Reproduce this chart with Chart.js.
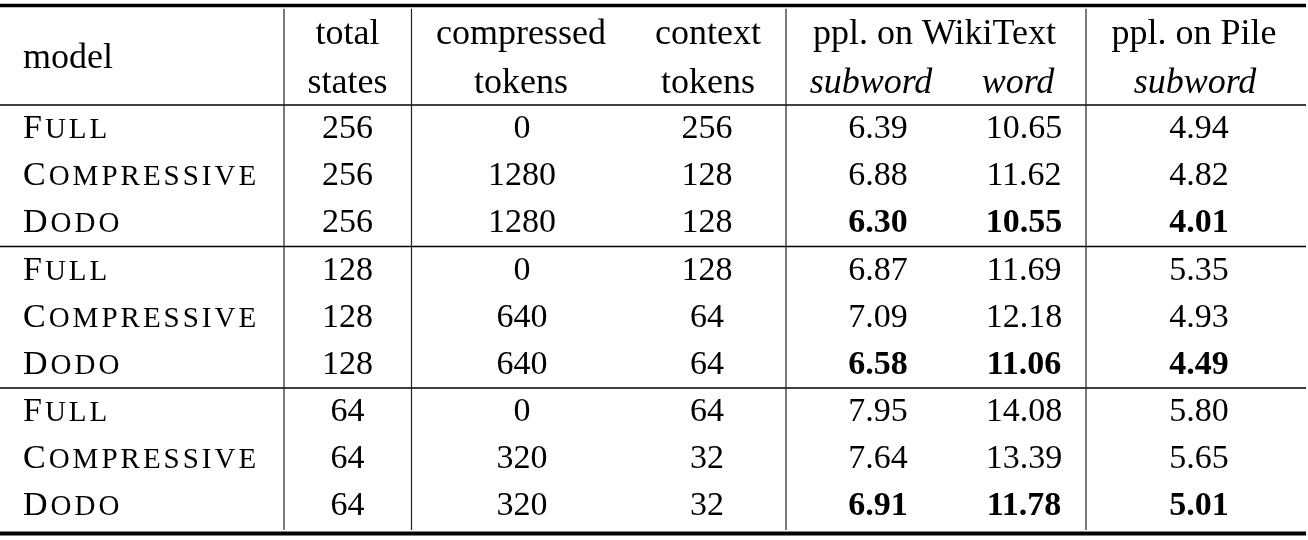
<!DOCTYPE html>
<html>
<head>
<meta charset="utf-8">
<script src="https://cdn.jsdelivr.net/npm/chart.js@4.4.1/dist/chart.umd.min.js"></script>
<style>
  html, body { margin: 0; padding: 0; background: #fff; }
  #wrap { width: 1308px; height: 540px; position: relative; }
</style>
</head>
<body>
<div id="wrap"><canvas id="resultsTable"></canvas></div>
<script>
// table values, one entry per row, three rows per block
var models = ['Full', 'Compressive', 'Dodo', 'Full', 'Compressive', 'Dodo', 'Full', 'Compressive', 'Dodo'];
var total_states = [256, 256, 256, 128, 128, 128, 64, 64, 64];
var compressed_tokens = [0, 1280, 1280, 0, 640, 640, 0, 320, 320];
var context_tokens = [256, 128, 128, 128, 64, 64, 64, 32, 32];
var wiki_subword = [6.39, 6.88, 6.30, 6.87, 7.09, 6.58, 7.95, 7.64, 6.91];
var wiki_word = [10.65, 11.62, 10.55, 11.69, 12.18, 11.06, 14.08, 13.39, 11.78];
var pile_subword = [4.94, 4.82, 4.01, 5.35, 4.93, 4.49, 5.80, 5.65, 5.01];
var group_size = 3;

var header_top = ['model', 'total', 'compressed', 'context', 'ppl. on WikiText', 'ppl. on Pile'];
var header_sub = ['states', 'tokens', 'tokens', 'subword', 'word', 'subword'];

// layout: x in px across the table, y in rows (0 = rule under the header)
var FONT = '"Liberation Serif", "DejaVu Serif", serif';
var FONT_SIZE = 34;
var HEAD_SIZE = 36;
var col_x = [23, 347.5, 522, 707, 878, 1024, 1199];
var top_x = [23, 347.5, 521, 708, 934.5, 1194];
var sub_x = [347.5, 521, 708, 871, 1018, 1195];
var col_rules = [284, 411.5, 786, 1086];
var header_rows = { top: -1.505, sub: -0.456, model: -0.99 };
var rule_rows = { top: -2.109, bottom: 9.084, vtop: -2.04, vbottom: 9.01 };


function group_best(values, i) {
    'use strict';
    var start = Math.floor(i / group_size) * group_size;
    var best = Math.min.apply(null, values.slice(start, start + group_size));
    return values[i] === best;
}

function make_column(values, col, decimals, bold_best) {
    'use strict';
    return {
        data: values.map(function (v, i) {
            return {
                x: col_x[col],
                y: i + 0.5,
                label: decimals ? v.toFixed(decimals) : String(v),
                bold: bold_best ? group_best(values, i) : false
            };
        }),
        pointRadius: 0,
        pointHoverRadius: 0
    };
}

function draw_small_caps(ctx, text, x, y) {
    'use strict';
    var first = text.charAt(0).toUpperCase();
    var rest = text.slice(1).toUpperCase();
    ctx.textAlign = 'left';
    ctx.letterSpacing = '3px';
    ctx.font = FONT_SIZE + 'px ' + FONT;
    ctx.fillText(first, x, y);
    var w = ctx.measureText(first).width;
    ctx.font = '29px ' + FONT;
    ctx.fillText(rest, x + w, y);
    ctx.letterSpacing = '0px';
}

var tablePlugin = {
    id: 'tableText',
    afterDatasetsDraw: function (chart) {
        'use strict';
        var ctx = chart.ctx;
        var xs = chart.scales.x;
        var ys = chart.scales.y;
        var left = xs.getPixelForValue(0);
        var right = xs.getPixelForValue(1306);
        var shift = FONT_SIZE * 0.28;

        ctx.save();
        ctx.strokeStyle = '#000';

        function hline(row, width) {
            var py = ys.getPixelForValue(row);
            ctx.lineWidth = width;
            ctx.beginPath();
            ctx.moveTo(left, py);
            ctx.lineTo(right, py);
            ctx.stroke();
        }
        hline(rule_rows.top, 3.6);
        hline(0, 1.3);
        for (var g = group_size; g < models.length; g += group_size) {
            hline(g, 1.3);
        }
        hline(rule_rows.bottom, 4);

        ctx.lineWidth = 1.2;
        ctx.strokeStyle = '#222';
        col_rules.forEach(function (c) {
            var px = xs.getPixelForValue(c);
            ctx.beginPath();
            ctx.moveTo(px, ys.getPixelForValue(rule_rows.vtop));
            ctx.lineTo(px, ys.getPixelForValue(rule_rows.vbottom));
            ctx.stroke();
        });

        ctx.fillStyle = '#000';
        ctx.textBaseline = 'alphabetic';

        // header
        ctx.font = HEAD_SIZE + 'px ' + FONT;
        ctx.textAlign = 'left';
        ctx.fillText(header_top[0], xs.getPixelForValue(top_x[0]), ys.getPixelForValue(header_rows.model) + shift);
        ctx.textAlign = 'center';
        for (var i = 1; i < header_top.length; i++) {
            ctx.fillText(header_top[i], xs.getPixelForValue(top_x[i]), ys.getPixelForValue(header_rows.top) + shift);
        }
        for (var j = 0; j < header_sub.length; j++) {
            ctx.font = (j >= 3 ? 'italic ' : '') + HEAD_SIZE + 'px ' + FONT;
            ctx.fillText(header_sub[j], xs.getPixelForValue(sub_x[j]), ys.getPixelForValue(header_rows.sub) + shift);
        }

        // body cells, placed by the scales
        chart.data.datasets.forEach(function (ds, d) {
            var meta = chart.getDatasetMeta(d);
            meta.data.forEach(function (el, k) {
                var cell = ds.data[k];
                if (ds.isModel) {
                    draw_small_caps(ctx, cell.label, el.x, el.y + shift);
                    return;
                }
                ctx.textAlign = 'center';
                ctx.font = (cell.bold ? 'bold ' : '') + FONT_SIZE + 'px ' + FONT;
                ctx.fillText(cell.label, el.x, el.y + shift);
            });
        });
        ctx.restore();
    }
};

function plot_results_table() {
    'use strict';
    var model_col = {
        data: models.map(function (m, i) {
            return { x: col_x[0], y: i + 0.5, label: m };
        }),
        isModel: true,
        pointRadius: 0,
        pointHoverRadius: 0
    };

    var ctx = document.getElementById('resultsTable');

    var table = new Chart(ctx, {
        type: 'scatter',
        data: {
            datasets: [
                model_col,
                make_column(total_states, 1, 0, false),
                make_column(compressed_tokens, 2, 0, false),
                make_column(context_tokens, 3, 0, false),
                make_column(wiki_subword, 4, 2, true),
                make_column(wiki_word, 5, 2, true),
                make_column(pile_subword, 6, 2, true)
            ]
        },
        options: {
            responsive: true,
            maintainAspectRatio: false,
            animation: false,
            layout: { padding: 0 },
            plugins: {
                legend: { display: false },
                tooltip: { enabled: false }
            },
            scales: {
                x: { type: 'linear', min: 0, max: 1308, display: false },
                y: { type: 'linear', reverse: true, min: -105 / 47.17, max: 435 / 47.17, display: false }
            }
        },
        plugins: [tablePlugin]
    });
}

plot_results_table();
</script>
</body>
</html>
